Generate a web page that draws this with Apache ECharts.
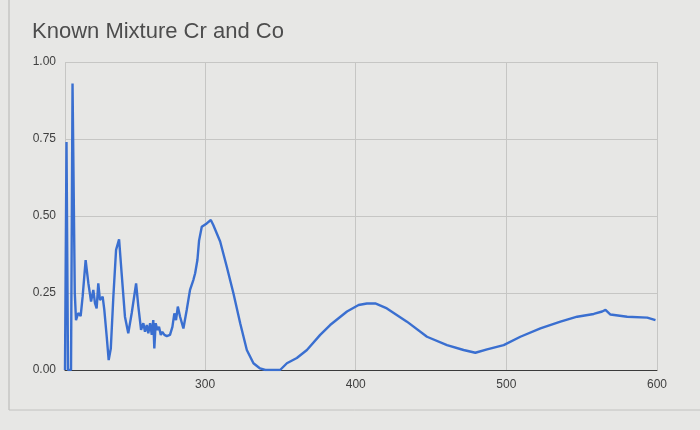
<!DOCTYPE html>
<html>
<head>
<meta charset="utf-8">
<script src="https://cdn.jsdelivr.net/npm/echarts@6/dist/echarts.min.js"></script>
<style>
html,body{margin:0;padding:0;background:#e7e7e5;}
#chart{width:700px;height:430px;}
</style>
</head>
<body>
<div id="chart"></div>
<script>
var titleText = 'Known Mixture Cr and Co';
var wavelengths = [207, 208, 209, 211, 212, 213.5, 214.3, 215.8, 217.4, 218.7, 220.7, 222.5, 224.3, 225.8, 226.9, 228.0, 229.1, 230.2, 232.0, 233.1, 234.7, 236.0, 237.4, 239.1, 240.9, 242.9, 244.6, 246.8, 249.0, 251.3, 254.2, 255.7, 257.5, 259.0, 260.1, 261.3, 262.3, 263.5, 264.6, 265.6, 266.3, 267.2, 268.3, 269.4, 270.6, 271.6, 273.0, 274.6, 276.7, 278.3, 279.6, 280.7, 281.9, 283.4, 285.6, 287.8, 290.0, 292.2, 293.4, 294.9, 296.0, 297.8, 301.1, 303.8, 305.5, 310.0, 314.4, 318.8, 323.3, 327.7, 332.1, 336.5, 340, 349.8, 354.3, 360.9, 367.6, 376.4, 383.0, 394.2, 401.9, 407.4, 413.0, 420.7, 434.0, 447.3, 460.6, 471.6, 479.4, 487.2, 498.2, 509.3, 522.6, 535.9, 547.0, 558.0, 563.6, 565.8, 569.1, 580.2, 593.5, 599];
var absorbance = [0.0, 0.74, 0.0, 0.0, 0.93, 0.25, 0.162, 0.185, 0.175, 0.238, 0.357, 0.282, 0.222, 0.26, 0.217, 0.20, 0.281, 0.227, 0.238, 0.195, 0.108, 0.032, 0.07, 0.238, 0.39, 0.424, 0.314, 0.173, 0.119, 0.185, 0.281, 0.206, 0.13, 0.152, 0.124, 0.146, 0.119, 0.152, 0.114, 0.162, 0.07, 0.152, 0.13, 0.14, 0.114, 0.124, 0.114, 0.11, 0.114, 0.14, 0.184, 0.162, 0.206, 0.173, 0.135, 0.195, 0.26, 0.292, 0.314, 0.357, 0.42, 0.465, 0.476, 0.487, 0.47, 0.417, 0.335, 0.249, 0.152, 0.065, 0.022, 0.005, 0.0, 0.0, 0.022, 0.039, 0.065, 0.114, 0.146, 0.19, 0.211, 0.216, 0.216, 0.2, 0.157, 0.108, 0.081, 0.065, 0.056, 0.067, 0.081, 0.108, 0.135, 0.157, 0.173, 0.182, 0.19, 0.195, 0.18, 0.173, 0.17, 0.162];
var xMin = 207, xMax = 600;
var yTicks = [0, 0.25, 0.5, 0.75, 1.0];

var points = wavelengths.map(function (w, i) { return [w, absorbance[i]]; });

var chart = echarts.init(document.getElementById('chart'), null, {renderer: 'canvas'});
var font = "'Liberation Sans', Arial, sans-serif";
chart.setOption({
  backgroundColor: '#e7e7e5',
  animation: false,
  title: {
    text: titleText,
    left: 27,
    top: 16,
    textStyle: {fontSize: 22, fontWeight: 'normal', color: '#4d4d4d', fontFamily: font}
  },
  graphic: [
    {type: 'line', shape: {x1: 9, y1: 0, x2: 9, y2: 410}, style: {stroke: '#b5b5b3', lineWidth: 1}},
    {type: 'line', shape: {x1: 9, y1: 410, x2: 700, y2: 410}, style: {stroke: '#c2c2c0', lineWidth: 1}}
  ],
  grid: {left: 65, right: 43, top: 62, bottom: 60, containLabel: false},
  xAxis: {
    type: 'value',
    min: xMin,
    max: xMax,
    splitNumber: 4,
    axisLine: {show: true, lineStyle: {color: '#3a3a3a', width: 1}},
    axisTick: {show: false},
    axisLabel: {
      showMinLabel: false,
      color: '#3f3f3f', fontSize: 12, fontFamily: font, margin: 9,
      formatter: function (v) { return v % 100 === 0 ? String(v) : ''; }
    },
    splitLine: {show: true, lineStyle: {color: '#c6c6c4', width: 1}}
  },
  yAxis: {
    type: 'value',
    min: yTicks[0],
    max: yTicks[yTicks.length - 1],
    interval: 0.25,
    axisLine: {show: false},
    axisTick: {show: false},
    axisLabel: {
      color: '#3f3f3f', fontSize: 12, fontFamily: font, margin: 9,
      formatter: function (v) { return v.toFixed(2); }
    },
    splitLine: {show: true, lineStyle: {color: '#c6c6c4', width: 1}}
  },
  series: [{
    type: 'line',
    data: points,
    showSymbol: false,
    symbol: 'none',
    lineStyle: {color: '#3a6fd0', width: 2.4},
    clip: true
  }]
});
</script>
</body>
</html>
